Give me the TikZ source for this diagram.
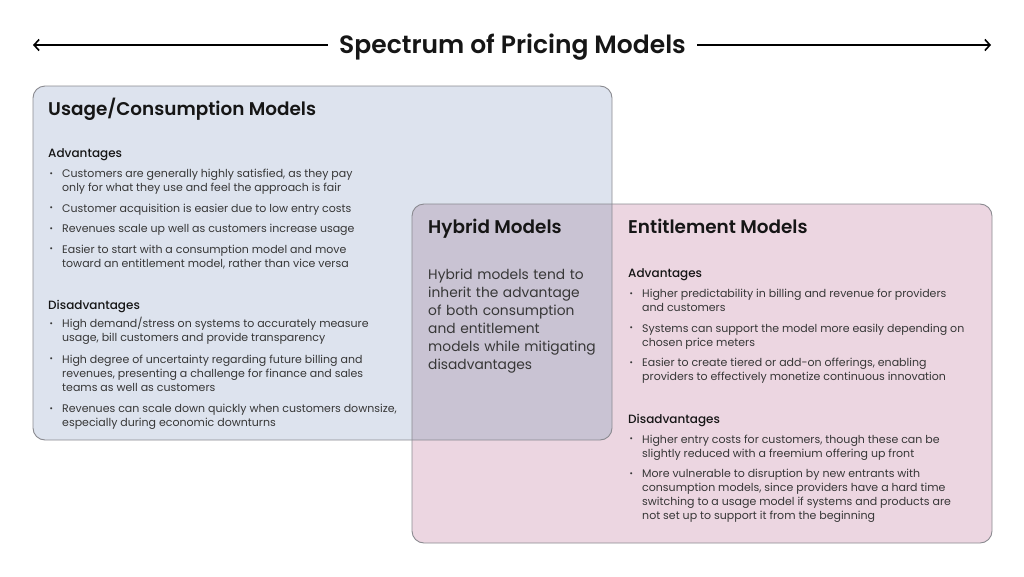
\documentclass[tikz,border=0pt]{standalone}
\usepackage{fontspec}
\setmainfont{Poppins}
\IfFontExistsTF{Poppins SemiBold}{\newfontfamily\headfont{Poppins SemiBold}}{\newcommand\headfont{\bfseries}}
\IfFontExistsTF{Poppins Medium}{\newfontfamily\midfont{Poppins Medium}}{\newcommand\midfont{\relax}}
\usetikzlibrary{arrows.meta}

\definecolor{usagefill}{RGB}{221,227,238}
\definecolor{entfill}{RGB}{236,214,225}
\definecolor{hybfill}{RGB}{201,195,211}
\definecolor{boxline}{RGB}{138,138,144}
\definecolor{headtext}{RGB}{22,22,22}
\definecolor{bodytext}{RGB}{55,55,55}

% one bullet of a list; a list is a top-aligned minipage
\newcommand{\bodysize}{\fontsize{11}{14}\selectfont}
\newcommand{\bitem}[1]{\par\hangindent=14pt\hangafter=1\noindent\makebox[14pt][l]{\hspace{1.5pt}\raisebox{0.25ex}{\scalebox{0.75}{\textbullet}}}#1}
\newenvironment{blist}[1]{\begin{minipage}[t]{380pt}\bodysize\setlength{\parskip}{#1}}{\end{minipage}}

\tikzset{
  modelbox/.style={draw=boxline, line width=0.9pt, rounded corners=12pt},
  boxhead/.style={anchor=base west, inner sep=0pt, text=headtext,
    font=\headfont\fontsize{18.4}{22}\selectfont},
  subhead/.style={anchor=base west, inner sep=0pt, text=headtext,
    font=\midfont\fontsize{12}{15}\selectfont},
  bullets/.style={anchor=base west, inner sep=0pt, text=bodytext, font=\bodysize},
  hybridbody/.style={anchor=base west, inner sep=0pt, text width=185pt, align=left,
    text=bodytext, font=\fontsize{13.8}{18}\selectfont},
  spectrumarrow/.style={line width=1.6pt,
    -{Straight Barb[length=5pt,width=11pt,line width=1.6pt]}}
}

\begin{document}
\begin{tikzpicture}[x=1pt,y=-1pt]
  \useasboundingbox (0,0) rectangle (1024,576);

  % Title with the spectrum arrows
  \node[anchor=base, inner xsep=11pt, inner ysep=0pt, text=headtext,
    font=\headfont\fontsize{25}{29}\selectfont] (spectrum) at (512.5,53.5) {Spectrum of Pricing Models};
  \coordinate (leftend) at (33,45);
  \coordinate (rightend) at (991,45);
  \draw[spectrumarrow] (spectrum.west |- leftend) -- (leftend);
  \draw[spectrumarrow] (spectrum.east |- rightend) -- (rightend);

  % The two boxes and their overlap
  \fill[usagefill, rounded corners=12pt] (33,86) rectangle (612,440);
  \fill[entfill, rounded corners=12pt] (412,204) rectangle (992,543);
  \begin{scope}
    \clip[rounded corners=12pt] (33,86) rectangle (612,440);
    \fill[hybfill, rounded corners=12pt] (412,204) rectangle (992,543);
  \end{scope}
  \draw[modelbox] (33,86) rectangle (612,440);
  \draw[modelbox] (412,204) rectangle (992,543);

  % Usage/Consumption Models
  \node[boxhead] (usagehead) at (48,115) {Usage/Consumption Models};
  \node[subhead] (usageadvhead) at (48,157) {Advantages};
  \node[bullets] (usageadv) at (48,177.7) {\begin{blist}{6.5pt}
    \bitem{Customers are generally highly satisfied, as they pay\\only for what they use and feel the approach is fair}
    \bitem{Customer acquisition is easier due to low entry costs}
    \bitem{Revenues scale up well as customers increase usage}
    \bitem{Easier to start with a consumption model and move\\toward an entitlement model, rather than vice versa}
  \end{blist}};
  \node[subhead] (usagedishead) at (48,309) {Disadvantages};
  \node[bullets] (usagedis) at (48,327.7) {\begin{blist}{7.5pt}
    \bitem{High demand/stress on systems to accurately measure\\usage, bill customers and provide transparency}
    \bitem{High degree of uncertainty regarding future billing and\\revenues, presenting a challenge for finance and sales\\teams as well as customers}
    \bitem{Revenues can scale down quickly when customers downsize,\\especially during economic downturns}
  \end{blist}};

  % Hybrid Models
  \node[boxhead] (hybridhead) at (428,233) {Hybrid Models};
  \node[hybridbody] (hybridtext) at (428,279) {Hybrid models tend to\\inherit the advantage\\of both consumption\\and entitlement\\models while mitigating\\disadvantages};

  % Entitlement Models
  \node[boxhead] (enthead) at (628,233) {Entitlement Models};
  \node[subhead] (entadvhead) at (628,277) {Advantages};
  \node[bullets] (entadv) at (628,297.7) {\begin{blist}{6.5pt}
    \bitem{Higher predictability in billing and revenue for providers\\and customers}
    \bitem{Systems can support the model more easily depending on\\chosen price meters}
    \bitem{Easier to create tiered or add-on offerings, enabling\\providers to effectively monetize continuous innovation}
  \end{blist}};
  \node[subhead] (entdishead) at (628,423) {Disadvantages};
  \node[bullets] (entdis) at (628,443.3) {\begin{blist}{6.5pt}
    \bitem{Higher entry costs for customers, though these can be\\slightly reduced with a freemium offering up front}
    \bitem{More vulnerable to disruption by new entrants with\\consumption models, since providers have a hard time\\switching to a usage model if systems and products are\\not set up to support it from the beginning}
  \end{blist}};
\end{tikzpicture}
\end{document}
